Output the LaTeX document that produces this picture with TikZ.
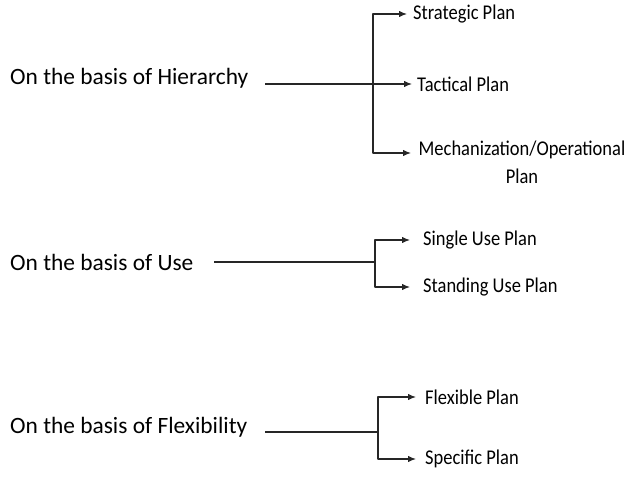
\documentclass[tikz,border=0pt]{standalone}
\usepackage{fontspec}
\setmainfont{Carlito}
\newfontfamily\narrowfont[FakeStretch=0.88]{Carlito}
\usetikzlibrary{arrows.meta}

\begin{document}
\begin{tikzpicture}[x=1pt,y=-1pt,join=round,>={Latex[length=8pt,width=6.5pt]},
  basis/.style={anchor=west,inner sep=0pt,font=\fontsize{23.4}{28}\selectfont},
  plan/.style={anchor=west,inner sep=0pt,font=\narrowfont\fontsize{21}{28}\selectfont},
  link/.style={line width=1.2pt,black!85}]
   \useasboundingbox (0,0) rectangle (638,478); % frame
       % Hierarchy
       \node[basis] (hier) at (10,78) {On the basis of Hierarchy};
       \node[plan] (strat) at (413,14) {Strategic Plan};
       \node[plan] (tact) at (417,84) {Tactical Plan};
       \node[plan,anchor=north,align=center] (mech) at (522,141) {Mechanization/Operational\\Plan};
       \coordinate (hj) at (373,84);
       \coordinate (mj) at (411,153);
       \draw[link] (265,84) coordinate (hs) -- (hj);
       \draw[link,->] (hs) -- ([xshift=-5pt]tact.west);
       \draw[link,->] (hj) |- ([xshift=-6pt]strat.west);
       \draw[link,->] (hj) |- (mj);
       % Use
       \node[basis] (use) at (10,262) {On the basis of Use};
       \node[plan] (single) at (423,240) {Single Use Plan};
       \node[plan] (stand) at (423,287) {Standing Use Plan};
       \coordinate (uj) at (375,262);
       \draw[link] (214,262) -- (uj);
       \draw[link,->] (uj) |- ([xshift=-13pt]single.west);
       \draw[link,->] (uj) |- ([xshift=-13pt]stand.west);
       % Flexibility
       \node[basis] (flex) at (10,427) {On the basis of Flexibility};
       \node[plan] (flexp) at (425,397) {Flexible Plan};
       \node[plan] (spec) at (425,459) {Specific Plan};
       \coordinate (fj) at (378,432);
       \draw[link] (265,432) -- (fj);
       \draw[link,->] (fj) |- ([xshift=-9pt]flexp.west);
       \draw[link,->] (fj) |- ([xshift=-9pt]spec.west);
   \end{tikzpicture}
\end{document}
